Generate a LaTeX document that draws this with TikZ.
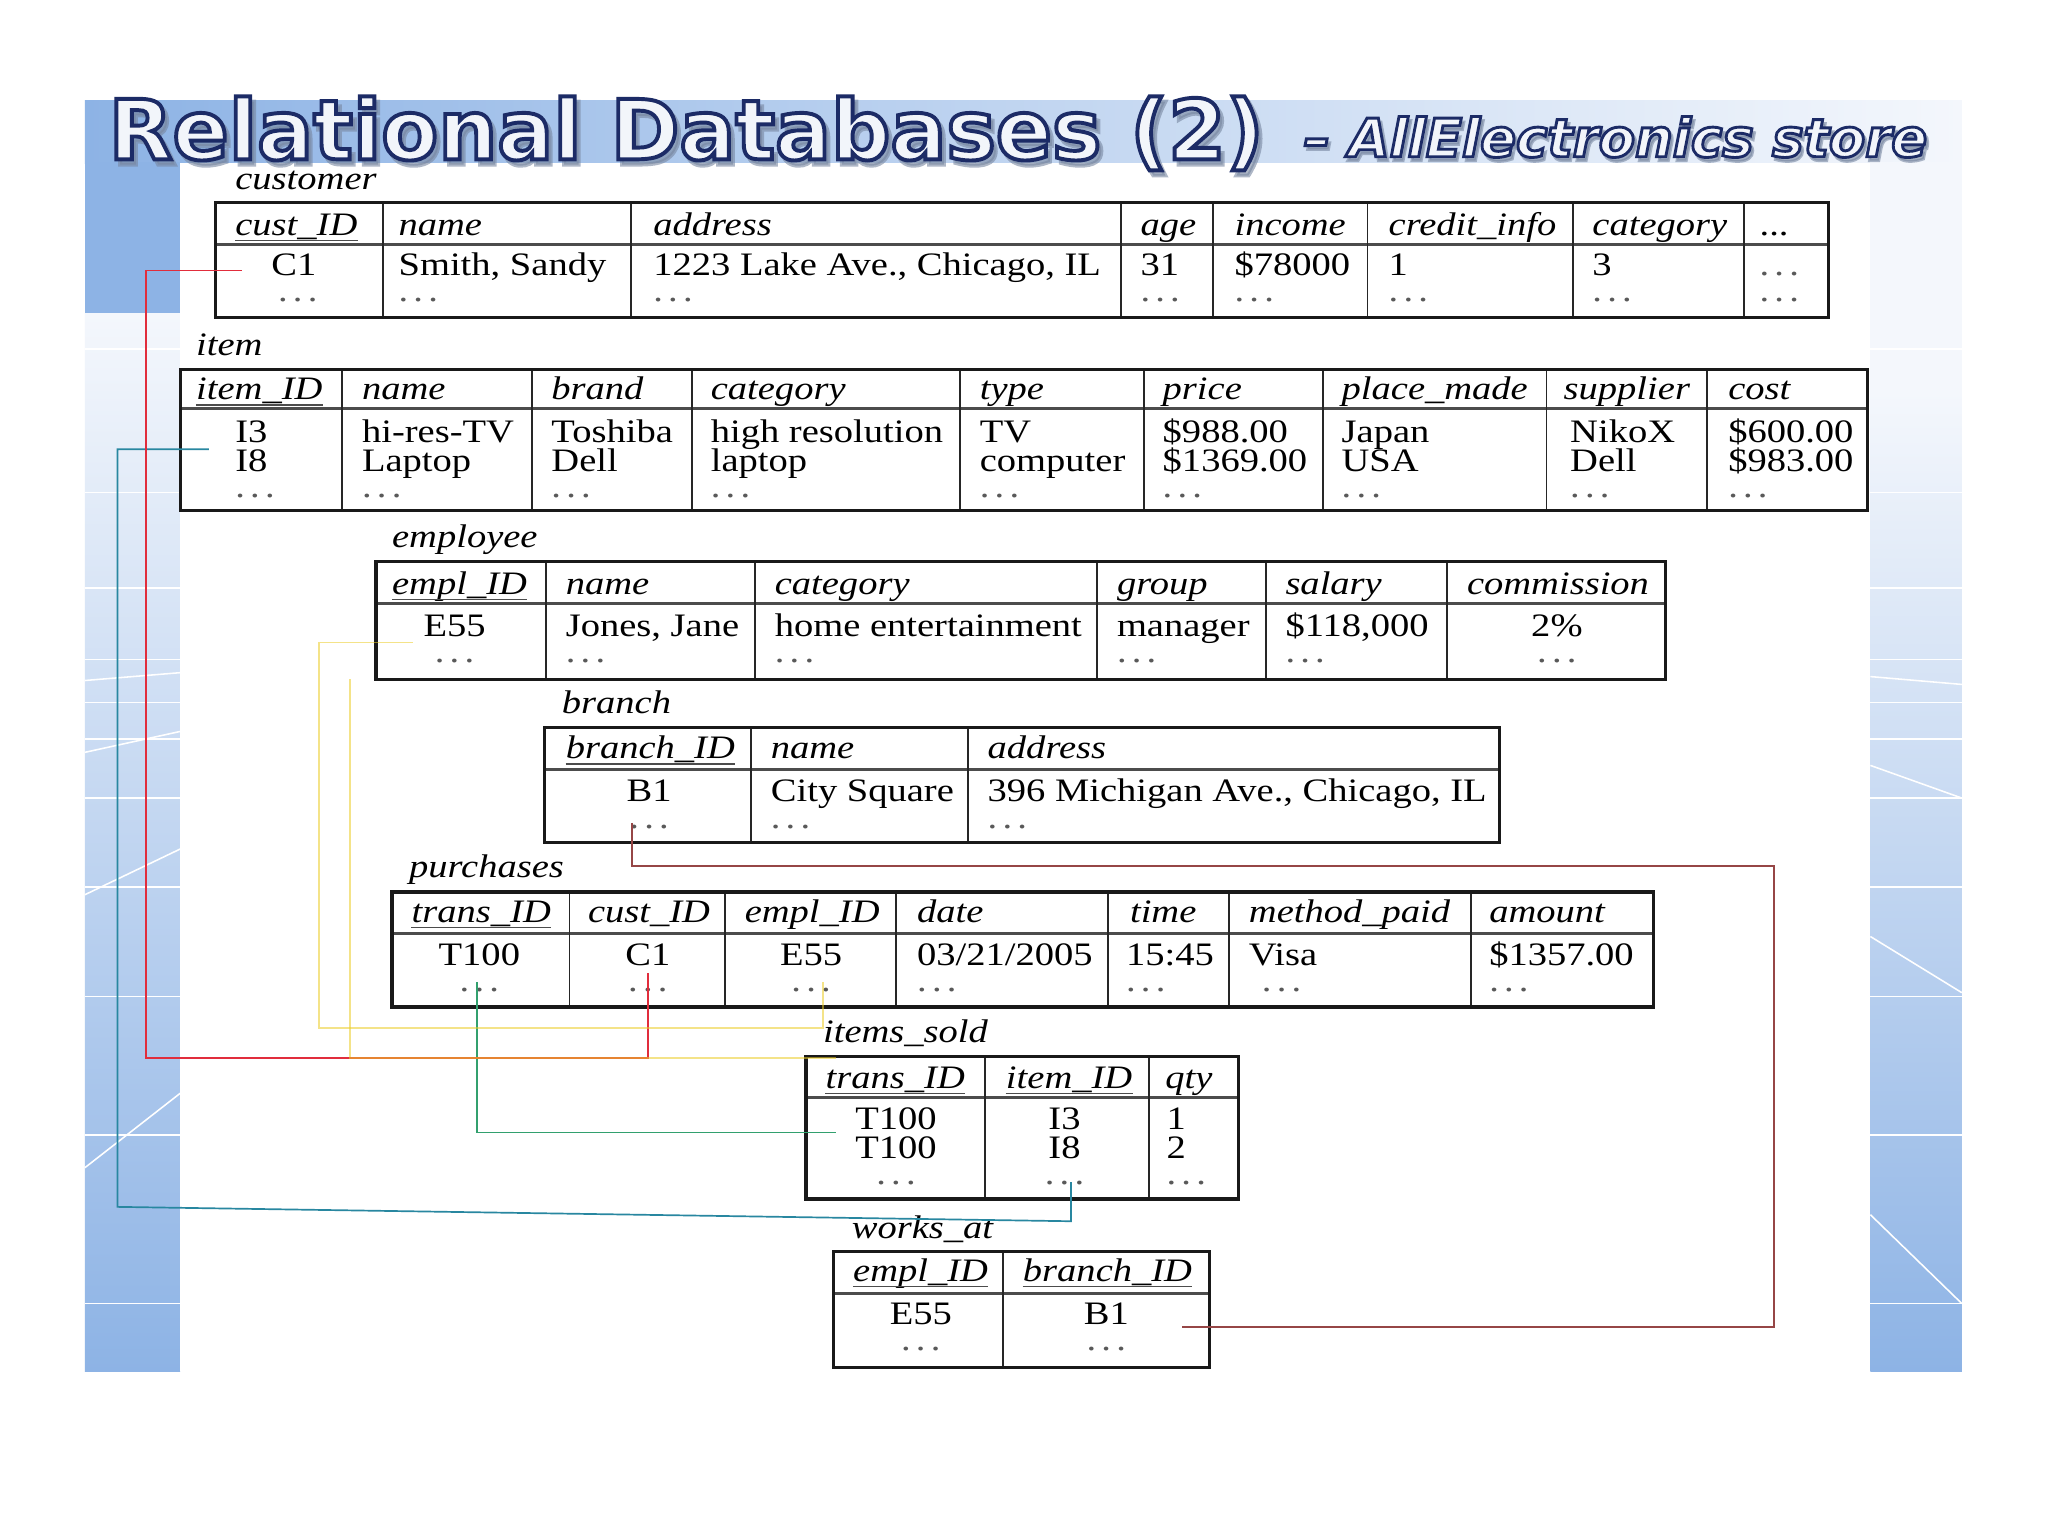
\documentclass[tikz,border=0pt]{standalone}
\usepackage{fontspec}
\usepackage{graphicx}
\setmainfont{Liberation Serif}
\newfontfamily\titlefont{DejaVu Sans}
\newcommand\sq[1]{\scalebox{1}[0.85]{#1}}
\newcommand\mydots{.\kern4pt.\kern4pt.}
\newcommand\outl[2]{\special{pdf:literal direct 2 Tr #1 w #2 RG}}
\newcommand\outloff{\special{pdf:literal direct 0 Tr 0.4 w}}
\newcommand\ttltext{\smash{Relational Databases (2)}}
\newcommand\subtext{\smash{– AllElectronics store}}
\newcommand\dbtable[6]{%
  \draw[hline] (#1,#5) -- (#3,#5);
  \foreach \c in {#6} \draw[cline] (\c,#2) -- (\c,#4);
  \draw[tline] (#1,#2) rectangle (#3,#4);}
\definecolor{band}{RGB}{141,179,229}
\definecolor{bandlight}{RGB}{244,247,252}
\definecolor{ttlfill}{RGB}{242,245,250}
\definecolor{ttlshadow}{RGB}{120,135,160}
\definecolor{cred}{RGB}{225,45,60}
\definecolor{cyel}{RGB}{235,205,40}
\definecolor{cgrn}{RGB}{50,160,110}
\definecolor{cteal}{RGB}{40,135,160}
\definecolor{cmar}{RGB}{150,70,70}
\begin{document}
\begin{tikzpicture}[x=1pt,y=-1pt,
  cell/.style={anchor=base west,inner sep=0pt,font=\fontsize{29.5}{30}\selectfont},
  ccell/.style={cell,anchor=base},
  hd/.style={cell,font=\fontsize{29.5}{30}\selectfont\itshape},
  dotc/.style={cell,text=black!65},
  cdotc/.style={dotc,anchor=base},
  tline/.style={line width=2.6pt,black!90},
  hline/.style={line width=2.4pt,black!70},
  cline/.style={line width=1.4pt,black!85},
  kline/.style={line width=1.1pt,black!70},
  conn/.style={line width=1.3pt},
  ttl/.style={anchor=base west,inner sep=0pt,font=\titlefont\bfseries\fontsize{63.5}{64}\selectfont},
  subt/.style={anchor=base west,inner sep=0pt,font=\titlefont\bfseries\itshape\fontsize{40.5}{41}\selectfont}]
\useasboundingbox (0,0) rectangle (1568,1176);
% background
\fill[white] (0,0) rectangle (1568,1176);
\shade[left color=band,right color=bandlight] (65,77) rectangle (1502,125);
\fill[band] (65,124) rectangle (138,240);
\shade[top color=bandlight,bottom color=band] (65,240) rectangle (138,1050);
\fill[bandlight] (1432,124) rectangle (1502,300);
\shade[top color=bandlight,bottom color=band] (1432,300) rectangle (1502,1050);
\foreach \y in {267,377,450,505,538,566,611,679,763,869,998} {
  \draw[white,line width=1.2pt] (65,\y) -- (138,\y);
  \draw[white,line width=1.2pt] (1432,\y) -- (1502,\y);}
\draw[white,line width=1.2pt] (65,521) -- (138,515) (65,576) -- (138,560) (65,685) -- (138,650) (65,894) -- (138,837);
\draw[white,line width=1.2pt] (1432,518) -- (1502,524) (1432,586) -- (1502,611) (1432,717) -- (1502,760) (1432,930) -- (1502,998);
\fill[white] (138,125) rectangle (1432,1050);
% title
\node[ttl,text=ttlshadow,opacity=0.6] (tshadow) at (86,126) {\outl{3}{0.47 0.53 0.63}\ttltext\outloff};
\node[ttl,text=ttlfill] (title) at (83,122) {\outl{3}{0.11 0.17 0.40}\ttltext\outloff};
\node[subt,text=ttlshadow,opacity=0.6] (sshadow) at (1000,123) {\outl{2.2}{0.47 0.53 0.63}\subtext\outloff};
\node[subt,text=ttlfill] (subtitle) at (998,120) {\outl{2.2}{0.11 0.17 0.40}\subtext\outloff};
% ---------- customer
\node[hd] (lcust) at (180,145) {\sq{customer}};
\dbtable{165}{155}{1400}{243}{187}{293,483,858,929,1047,1204,1335}
\node[hd] (cuk) at (180,180) {\sq{cust\_ID}};
\draw[kline] ([yshift=-4pt]cuk.base west) -- ([yshift=-4pt]cuk.base east);
\foreach \x/\t [count=\i] in {305/name,500/address,873/age,945/income,1063/credit\_info,1219/category} \node[hd] (cuh\i) at (\x,180) {\sq{\t}};
\node[cell] (cuhx) at (1347,180) {\sq{...}};
\node[ccell] (cuC) at (225,211) {\sq{C1}};
\foreach \x/\t [count=\i] in {305/{Smith, Sandy},500/{1223 Lake Ave., Chicago, IL},873/31,945/\$78000,1063/1,1219/3} \node[cell] (cur\i) at (\x,211) {\sq{\t}};
\node[dotc] (curx) at (1347,211) {\sq{\mydots}};
\node[cdotc] (cud0) at (228,231) {\sq{\mydots}};
\foreach \x [count=\i] in {305,500,873,945,1063,1219,1347} \node[dotc] (cud\i) at (\x,231) {\sq{\mydots}};
% ---------- item
\node[hd] (litem) at (150,272) {\sq{item}};
\dbtable{138}{283}{1430}{391}{313}{262,407,530,735,876,1013,1184,1307}
\node[hd] (itk) at (150,306) {\sq{item\_ID}};
\draw[kline] ([yshift=-4pt]itk.base west) -- ([yshift=-4pt]itk.base east);
\foreach \x/\t [count=\i] in {277/name,422/brand,544/category,750/type,890/price,1027/place\_made,1197/supplier,1323/cost} \node[hd] (ith\i) at (\x,306) {\sq{\t}};
\foreach \x/\t [count=\i] in {180/I3,277/hi-res-TV,422/Toshiba,544/high resolution,750/TV,890/\$988.00,1027/Japan,1202/NikoX,1323/\$600.00} \node[cell] (ita\i) at (\x,339) {\sq{\t}};
\foreach \x/\t [count=\i] in {180/I8,277/Laptop,422/Dell,544/laptop,750/computer,890/\$1369.00,1027/USA,1202/Dell,1323/\$983.00} \node[cell] (itb\i) at (\x,361) {\sq{\t}};
\foreach \x [count=\i] in {180,277,422,544,750,890,1027,1202,1323} \node[dotc] (itd\i) at (\x,381) {\sq{\mydots}};
% ---------- employee
\node[hd] (lemp) at (300,419) {\sq{employee}};
\dbtable{288}{430}{1275}{520}{462}{418,578,840,969,1108}
\node[hd] (emk) at (300,455) {\sq{empl\_ID}};
\draw[kline] ([yshift=-4pt]emk.base west) -- ([yshift=-4pt]emk.base east);
\foreach \x/\t [count=\i] in {433/name,593/category,855/group,984/salary,1123/commission} \node[hd] (emh\i) at (\x,455) {\sq{\t}};
\node[ccell] (emE) at (348,487) {\sq{E55}};
\foreach \x/\t [count=\i] in {433/{Jones, Jane},593/home entertainment,855/manager,984/{\$118,000}} \node[cell] (emr\i) at (\x,487) {\sq{\t}};
\node[ccell] (emc) at (1192,487) {\sq{2\%}};
\node[cdotc] (emd0) at (348,507) {\sq{\mydots}};
\foreach \x [count=\i] in {433,593,855,984} \node[dotc] (emd\i) at (\x,507) {\sq{\mydots}};
\node[cdotc] (emd9) at (1192,507) {\sq{\mydots}};
% ---------- branch
\node[hd] (lbr) at (430,546) {\sq{branch}};
\dbtable{417}{557}{1148}{645}{589}{575,741}
\node[hd] (brk) at (433,581) {\sq{branch\_ID}};
\draw[kline] ([yshift=-4pt]brk.base west) -- ([yshift=-4pt]brk.base east);
\node[hd] (brh1) at (590,581) {\sq{name}};
\node[hd] (brh2) at (756,581) {\sq{address}};
\node[ccell] (brB) at (497,614) {\sq{B1}};
\node[cell] (brr1) at (590,614) {\sq{City Square}};
\node[cell] (brr2) at (756,614) {\sq{396 Michigan Ave., Chicago, IL}};
\node[cdotc] (brd0) at (497,634) {\sq{\mydots}};
\node[dotc] (brd1) at (590,634) {\sq{\mydots}};
\node[dotc] (brd2) at (756,634) {\sq{\mydots}};
% ---------- purchases
\node[hd] (lpur) at (313,672) {\sq{purchases}};
\dbtable{300}{683}{1266}{771}{715}{436,555,686,848,941,1126}
\node[hd] (puk) at (315,706) {\sq{trans\_ID}};
\draw[kline] ([yshift=-4pt]puk.base west) -- ([yshift=-4pt]puk.base east);
\foreach \x/\t [count=\i] in {450/cust\_ID,570/empl\_ID,702/date,865/time,956/method\_paid,1140/amount} \node[hd] (puh\i) at (\x,706) {\sq{\t}};
\node[ccell] (puT) at (367,739) {\sq{T100}};
\node[ccell] (puC) at (496,739) {\sq{C1}};
\node[ccell] (puE) at (621,739) {\sq{E55}};
\node[cell] (pur1) at (702,739) {\sq{03/21/2005}};
\node[cell] (pur2) at (862,739) {\sq{15:45}};
\node[cell] (pur3) at (956,739) {\sq{Visa}};
\node[cell] (pur4) at (1140,739) {\sq{\$1357.00}};
\foreach \x [count=\i] in {367,496,621} \node[cdotc] (pudc\i) at (\x,759) {\sq{\mydots}};
\foreach \x [count=\i] in {702,862,966,1140} \node[dotc] (pud\i) at (\x,759) {\sq{\mydots}};
% ---------- items_sold
\node[hd] (lis) at (630,798) {\sq{items\_sold}};
\dbtable{617}{809}{948}{918}{840}{754,880}
\node[hd] (isk1) at (632,833) {\sq{trans\_ID}};
\node[hd] (isk2) at (770,833) {\sq{item\_ID}};
\draw[kline] ([yshift=-4pt]isk1.base west) -- ([yshift=-4pt]isk1.base east);
\draw[kline] ([yshift=-4pt]isk2.base west) -- ([yshift=-4pt]isk2.base east);
\node[hd] (ish3) at (892,833) {\sq{qty}};
\node[ccell] (isT1) at (686,865) {\sq{T100}};
\node[ccell] (isI1) at (815,865) {\sq{I3}};
\node[cell] (isq1) at (893,865) {\sq{1}};
\node[ccell] (isT2) at (686,887) {\sq{T100}};
\node[ccell] (isI2) at (815,887) {\sq{I8}};
\node[cell] (isq2) at (893,887) {\sq{2}};
\node[cdotc] (isd1) at (686,907) {\sq{\mydots}};
\node[cdotc] (isd2) at (815,907) {\sq{\mydots}};
\node[dotc] (isd3) at (893,907) {\sq{\mydots}};
% ---------- works_at
\node[hd] (lwa) at (652,948) {\sq{works\_at}};
\dbtable{638}{958}{926}{1047}{990}{768}
\node[hd] (wak1) at (653,981) {\sq{empl\_ID}};
\node[hd] (wak2) at (783,981) {\sq{branch\_ID}};
\draw[kline] ([yshift=-4pt]wak1.base west) -- ([yshift=-4pt]wak1.base east);
\draw[kline] ([yshift=-4pt]wak2.base west) -- ([yshift=-4pt]wak2.base east);
\node[ccell] (waE) at (705,1014) {\sq{E55}};
\node[ccell] (waB) at (847,1014) {\sq{B1}};
\node[cdotc] (wad1) at (705,1034) {\sq{\mydots}};
\node[cdotc] (wad2) at (847,1034) {\sq{\mydots}};
% ---------- connectors
\coordinate (rS) at (185,207);
\coordinate (rE) at (496,745);
\coordinate (yS1) at (316,492);
\coordinate (yE1) at (630,752);
\coordinate (yS2) at (268,520);
\coordinate (yE2) at (640,810);
\coordinate (gS) at (640,867);
\coordinate (gE) at (365,752);
\coordinate (bS) at (160,344);
\coordinate (bE) at (820,905);
\coordinate (mS) at (484,630);
\coordinate (mE) at (905,1016);
\draw[conn,cmar] (mS) |- (1358,663) |- (mE);
\draw[conn,cteal] (bS) -| (90,924) -- (820,935) -- (bE);
\draw[conn,cgrn] (gS) -| (gE);
\draw[conn,cred] (rS) -| (112,810) -| (rE);
\draw[conn,cyel,opacity=0.55] (yS1) -| (244,787) -| (yE1);
\draw[conn,cyel,opacity=0.55] (yS2) |- (yE2);
\end{tikzpicture}
\end{document}
